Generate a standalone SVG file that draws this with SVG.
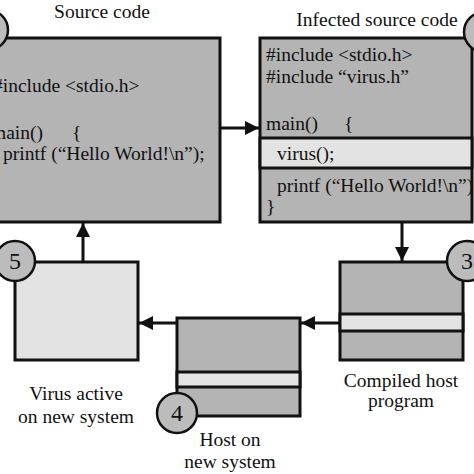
<svg xmlns="http://www.w3.org/2000/svg" width="474" height="474" viewBox="0 0 474 474">
<style>
.t{font-family:"Liberation Serif","Times New Roman",serif;font-size:19.5px;fill:#111}
.c{text-anchor:middle}
.d{fill:#b4b4b4;stroke:#111;stroke-width:3}
.l{fill:#e3e3e3;stroke:#111;stroke-width:3}
.ci{fill:#bcbcbc;stroke:#111;stroke-width:2.5}
.n{font-family:"Liberation Serif","Times New Roman",serif;font-size:24px;fill:#111;text-anchor:middle}
.w{stroke:#111;stroke-width:3;fill:none}
</style>
<defs>
<marker id="ah" viewBox="0 0 14 14" refX="14" refY="7" markerWidth="14" markerHeight="14" markerUnits="userSpaceOnUse" orient="auto">
<path d="M0,0 L14,7 L0,14 Z" fill="#111"/>
</marker>
</defs>
<rect width="474" height="474" fill="#fff"/>
<g id="connectors">
<line class="w" x1="220" y1="128" x2="259" y2="128" marker-end="url(#ah)"/>
<line class="w" x1="402" y1="222" x2="402" y2="261" marker-end="url(#ah)"/>
<line class="w" x1="340" y1="323" x2="301" y2="323" marker-end="url(#ah)"/>
<line class="w" x1="177" y1="323" x2="139" y2="323" marker-end="url(#ah)"/>
<line class="w" x1="83" y1="262" x2="83" y2="223" marker-end="url(#ah)"/>
</g>
<g id="source">
<rect class="d" x="-10" y="38" width="230" height="184"/>
<text class="t c" x="102" y="18">Source code</text>
<text class="t" x="-7" y="92">#include &lt;stdio.h&gt;</text>
<text class="t" x="-9" y="139">main()<tspan x="72">{</tspan></text>
<text class="t" x="3" y="160">printf (“Hello World!\n”);</text>
</g>
<g id="infected">
<rect class="d" x="260" y="38" width="212" height="184"/>
<rect class="l" x="260" y="138" width="212" height="30"/>
<text class="t c" x="377" y="26">Infected source code</text>
<text class="t" x="266" y="61">#include &lt;stdio.h&gt;</text>
<text class="t" x="266" y="83">#include “virus.h”</text>
<text class="t" x="266" y="130">main()<tspan x="344">{</tspan></text>
<text class="t" x="277" y="160">virus();</text>
<text class="t" x="277" y="192">printf (“Hello World!\n”);</text>
<text class="t" x="266" y="213">}</text>
</g>
<g id="compiled">
<rect class="d" x="340" y="262" width="123" height="98"/>
<rect class="l" x="340" y="314" width="123" height="17"/>
<text class="t c" x="401" y="387">Compiled host</text>
<text class="t c" x="401" y="407">program</text>
</g>
<g id="hostnew">
<rect class="d" x="177" y="318" width="123" height="98"/>
<rect class="l" x="177" y="372" width="123" height="15"/>
<text class="t c" x="230" y="446">Host on</text>
<text class="t c" x="230" y="468">new system</text>
</g>
<g id="active">
<rect class="l" x="15" y="262" width="123" height="98"/>
<text class="t c" x="76" y="400">Virus active</text>
<text class="t c" x="76" y="423">on new system</text>
</g>
<g id="c1"><circle class="ci" cx="-12" cy="30" r="20"/><text class="n" x="-12" y="38">1</text></g>
<g id="c2"><circle class="ci" cx="484" cy="32" r="20"/><text class="n" x="484" y="40">2</text></g>
<g id="c3"><circle class="ci" cx="467" cy="261" r="20"/><text class="n" x="467" y="269">3</text></g>
<g id="c4"><circle class="ci" cx="177" cy="413" r="20"/><text class="n" x="177" y="421">4</text></g>
<g id="c5"><circle class="ci" cx="15" cy="261" r="20"/><text class="n" x="15" y="269">5</text></g>
</svg>
